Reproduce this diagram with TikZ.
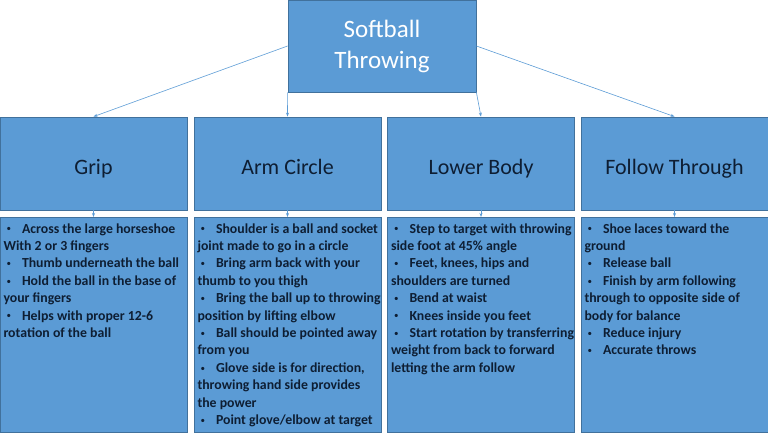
\documentclass[tikz,border=0pt]{standalone}
\usepackage{fontspec}
\setmainfont{Carlito}
\usetikzlibrary{arrows.meta}
\definecolor{boxblue}{HTML}{5B9BD5}
\definecolor{edgeblue}{HTML}{41719C}
\definecolor{inkblue}{HTML}{0E1E33}
\newcommand{\bitem}{\makebox[18.5pt][l]{\hspace{3pt}\raisebox{1.2pt}{\mdseries\fontsize{9}{9}\selectfont •}}}
\tikzset{
    box/.style={draw=edgeblue, fill=boxblue, line width=0.8pt, rectangle},
    headbox/.style={box, minimum width=188pt, minimum height=92pt, text=white, font=\fontsize{25}{31}\selectfont, align=center},
    stagebox/.style={box, minimum width=187pt, minimum height=93pt, text=inkblue, font=\fontsize{22}{26}\selectfont, text height=23pt, text depth=0pt},
    notebox/.style={box, inner sep=0pt, text=inkblue, font=\bfseries\fontsize{13.8}{17.4}\selectfont},
    link/.style={draw=boxblue, line width=0.6pt, -{Stealth[length=4pt,width=3pt]}}
}
\newcommand{\notes}[1]{\parbox[t][215pt][t]{187pt}{\vspace{6pt}\leftskip=3.5pt\parindent=0pt #1}}
\begin{document}
\begin{tikzpicture}[x=1pt, y=-1pt]
    \useasboundingbox (0,0) rectangle (768,433);
    \node[headbox] (top) at (382,46) {Softball\\Throwing};
    \node[stagebox] (grip) at (93.5,163.5) {Grip};
    \node[stagebox] (arm) at (287.5,163.5) {Arm Circle};
    \node[stagebox] (lower) at (481,163.5) {Lower Body};
    \node[stagebox] (follow) at (674.5,163.5) {Follow Through};
    \node[notebox, anchor=north] (gripnotes) at (93.5,217) {\notes{%
        \bitem Across the large horseshoe\\
        With 2 or 3 fingers\\
        \bitem Thumb underneath the ball\\
        \bitem Hold the ball in the base of\\
        your fingers\\
        \bitem Helps with proper 12-6\\
        rotation of the ball}};
    \node[notebox, anchor=north] (armnotes) at (287.5,217) {\notes{%
        \bitem Shoulder is a ball and socket\\
        joint made to go in a circle\\
        \bitem Bring arm back with your\\
        thumb to you thigh\\
        \bitem Bring the ball up to throwing\\
        position by lifting elbow\\
        \bitem Ball should be pointed away\\
        from you\\
        \bitem Glove side is for direction,\\
        throwing hand side provides\\
        the power\\
        \bitem Point glove/elbow at target}};
    \node[notebox, anchor=north] (lowernotes) at (481,217) {\notes{%
        \bitem Step to target with throwing\\
        side foot at 45\% angle\\
        \bitem Feet, knees, hips and\\
        shoulders are turned\\
        \bitem Bend at waist\\
        \bitem Knees inside you feet\\
        \bitem Start rotation by transferring\\
        weight from back to forward\\
        letting the arm follow}};
    \node[notebox, anchor=north] (follownotes) at (674.5,217) {\notes{%
        \bitem Shoe laces toward the\\
        ground\\
        \bitem Release ball\\
        \bitem Finish by arm following\\
        through to opposite side of\\
        body for balance\\
        \bitem Reduce injury\\
        \bitem Accurate throws}};
    \draw[link] (top.west) -- (grip.north);
    \draw[link] (top.south west) -- (arm.north);
    \draw[link] (top.south east) -- (lower.north);
    \draw[link] (top.east) -- (follow.north);
    \draw[link] (grip.south) -- (gripnotes.north);
    \draw[link] (arm.south) -- (armnotes.north);
    \draw[link] (lower.south) -- (lowernotes.north);
    \draw[link] (follow.south) -- (follownotes.north);
\end{tikzpicture}
\end{document}
